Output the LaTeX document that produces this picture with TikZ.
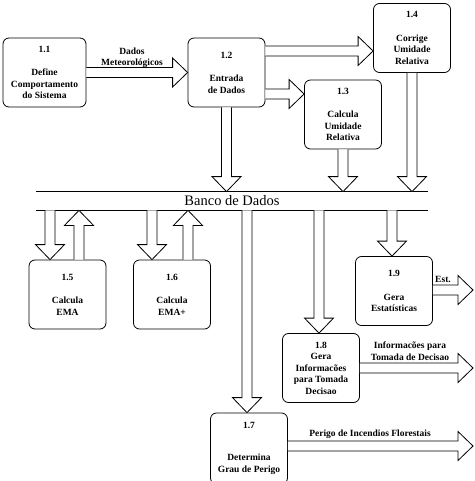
\documentclass[tikz,border=0pt]{standalone}
\usepackage{fontspec}
\setmainfont{Liberation Serif}
\usetikzlibrary{calc}

% hollow block arrow from #1 to the tip #2
\newcommand{\fatarrow}[2]{%
  \draw[hollow] let \p1=#1, \p2=#2, \n1={veclen(\x2-\x1,\y2-\y1)},
    \n2={(\x2-\x1)/\n1}, \n3={(\y2-\y1)/\n1} in
    ({\x1-5*\n3},{\y1+5*\n2}) -- ({\x2-15*\n2-5*\n3},{\y2-15*\n3+5*\n2})
    -- ({\x2-15*\n2-14.5*\n3},{\y2-15*\n3+14.5*\n2}) -- (\p2)
    -- ({\x2-15*\n2+14.5*\n3},{\y2-15*\n3-14.5*\n2})
    -- ({\x2-15*\n2+5*\n3},{\y2-15*\n3-5*\n2}) -- ({\x1+5*\n3},{\y1-5*\n2});}

\begin{document}
\begin{tikzpicture}[x=1pt, y=-1pt, line width=0.8pt,
  every node/.style={font=\bfseries\fontsize{9.5}{11.5}\selectfont, align=center},
  proc/.style={draw, rounded corners=6pt, minimum width=77pt, minimum height=69pt, inner sep=0pt},
  hollow/.style={draw, fill=white, line join=miter}]
  \useasboundingbox (0,0) rectangle (474,481);
  \clip (0,0) rectangle (474,481);

  \node[proc, minimum width=83pt] (b11) at (44.5,72.5) {1.1\\[12pt]Define\\Comportamento\\do Sistema};
  \node[proc] (b12) at (226.5,72.5) {1.2\\[12pt]Entrada\\de Dados};
  \node[proc] (b13) at (343,114.5) {1.3\\[12pt]Calcula\\Umidade\\Relativa};
  \node[proc] (b14) at (412,38) {1.4\\[12pt]Corrige\\Umidade\\Relativa};
  \node[proc] (b15) at (67.5,294.5) {1.5\\[12pt]Calcula\\EMA};
  \node[proc] (b16) at (172,294.5) {1.6\\[12pt]Calcula\\EMA+};
  \node[proc, minimum height=71pt] (b17) at (249,448.5) {1.7\\[20.5pt]Determina\\Grau de Perigo};
  \node[proc] (b18) at (321,368) {1.8\\Gera\\Informacões\\para Tomada\\Decisao};
  \node[proc] (b19) at (394,291) {1.9\\[12pt]Gera\\Estatísticas};

  \node[minimum width=392pt, minimum height=18pt, inner sep=0pt,
        font=\fontsize{14.5}{16}\selectfont] (bus) at (232,201) {Banco de Dados};
  \draw (bus.north west) -- (bus.north east) (bus.south west) -- (bus.south east);

  \node (met) at (132,58) {Dados\\Meteorológicos};
  \node (est) at (443,279) {Est.};
  \node (inf) at (410,351) {Informacões para\\Tomada de Decisao};
  \node (per) at (370,434) {Perigo de Incendios Florestais};

  \coordinate (o9) at (473,290);
  \coordinate (o8) at (473,368);
  \coordinate (o7) at (473,446);

  \fatarrow{(b11.east)}{(b12.west)}
  \fatarrow{(b12.east |- 0,51)}{(b14.west |- 0,51)}
  \fatarrow{(b12.east |- 0,94)}{(b13.west |- 0,94)}
  \fatarrow{(b12.south)}{(b12.south |- bus.north)}
  \fatarrow{(b13.south)}{(b13.south |- bus.north)}
  \fatarrow{(b14.south)}{(b14.south |- bus.north)}
  \fatarrow{(bus.south -| 50,0)}{(b15.north -| 50,0)}
  \fatarrow{(b15.north -| 79,0)}{(bus.south -| 79,0)}
  \fatarrow{(bus.south -| 152,0)}{(b16.north -| 152,0)}
  \fatarrow{(b16.north -| 188,0)}{(bus.south -| 188,0)}
  \fatarrow{(bus.south -| 247,0)}{(b17.north -| 247,0)}
  \fatarrow{(bus.south -| 319,0)}{(b18.north -| 319,0)}
  \fatarrow{(bus.south -| 392,0)}{(b19.north -| 392,0)}
  \fatarrow{(b19.east |- o9)}{(o9)}
  \fatarrow{(b18.east)}{(o8)}
  \fatarrow{(b17.east |- o7)}{(o7)}
\end{tikzpicture}
\end{document}
